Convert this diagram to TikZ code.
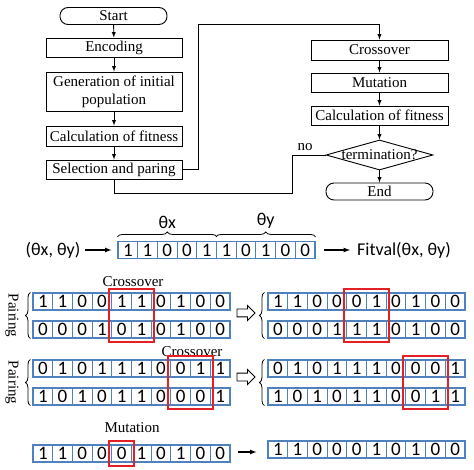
\documentclass[tikz,border=0pt]{standalone}
\usepackage{fontspec}
\setmainfont{Liberation Serif}
\newfontfamily\bitfont{Carlito}
\usetikzlibrary{shapes.geometric,shapes.arrows,decorations.pathreplacing,fit}
\definecolor{cellblue}{RGB}{79,129,189}
\definecolor{cutred}{RGB}{226,32,38}
\tikzstyle{flow}=[draw, line width=0.9pt, inner sep=0pt, font=\fontsize{15}{18}\selectfont, align=center]
\tikzstyle{proc}=[flow, minimum width=136pt, minimum height=19pt]
\tikzstyle{term}=[flow, rounded corners=8pt, minimum width=107pt, minimum height=17pt]
\tikzstyle{bit}=[draw=cellblue, line width=1.1pt, minimum width=19.7pt, minimum height=17pt, inner sep=0pt, font=\bitfont\fontsize{19}{19}\selectfont]
\tikzstyle{cut}=[draw=cutred, line width=2.2pt, inner xsep=2pt, inner ysep=3.5pt]
\tikzstyle{serif label}=[font=\fontsize{15}{18}\selectfont, inner sep=0pt]
\tikzstyle{sans label}=[font=\bitfont\fontsize{18}{18}\selectfont, inner sep=0pt]
\tikzstyle{brace}=[decorate, decoration={brace, amplitude=5pt}, line width=0.8pt]
\tikzstyle{hollow}=[single arrow, draw, line width=0.9pt, fill=white, minimum height=18pt, inner sep=3.5pt, single arrow head extend=3.5pt]
\tikzstyle{link}=[-latex, line width=0.9pt]
\tikzstyle{pass}=[-latex, line width=1.2pt]
\newcommand{\bitrow}[4]{% name, left x, centre y, bits
  \foreach \bv [count=\i] in {#4} {
    \draw (#2+\i*19.7-9.85,#3) node[bit] (#1-\i) {\bv};
  }}

\begin{document}
\begin{tikzpicture}[x=1pt,y=-1pt]
  \useasboundingbox (0,0) rectangle (474,470);

  %% Flow chart
  \draw (113.5,16) node[term] (start) {Start};
  \draw (114,47.5) node[proc] (enc) {Encoding};
  \draw (114,91.5) node[proc, minimum height=39pt] (gen) {Generation of initial\\population};
  \draw (114,136) node[proc, minimum height=20pt] (fit1) {Calculation of fitness};
  \draw (114,169.5) node[proc] (sel) {Selection and paring};

  \draw (379.5,50) node[proc, minimum width=137pt, minimum height=20pt] (cross) {Crossover};
  \draw (379.5,82.5) node[proc, minimum width=137pt] (mut) {Mutation};
  \draw (379.5,115.5) node[proc, minimum width=137pt] (fit2) {Calculation of fitness};
  \draw (379.5,155) node[flow, diamond, minimum width=107pt, minimum height=30pt] (check) {};
  \draw (check) node[serif label] (checktext) {termination?};
  \draw (379.5,191.5) node[term] (end) {End};

  \coordinate (loopup) at (198,24);
  \coordinate (loopback) at (292,193);

  \draw[link] (start) -- (enc);
  \draw[link] (enc) -- (gen);
  \draw[link] (gen) -- (fit1);
  \draw[link] (fit1) -- (sel);
  \draw[link] (sel.east) -| (loopup) -| (cross.north);
  \draw[link] (cross) -- (mut);
  \draw[link] (mut) -- (fit2);
  \draw[link] (fit2) -- (check);
  \draw[link] (check) -- (end);
  \draw[line width=0.9pt] (check.west) -| (loopback) -| (sel.south);
  \draw (305,147) node[serif label] (nolabel) {no};

  %% Encoding of the pair
  \draw (53,250) node[sans label] (theta) {(θx, θy)};
  \bitrow{code}{118}{250}{1,1,0,0,1,1,0,1,0,0}
  \draw (357,250) node[sans label, anchor=west] (fitval) {Fitval(θx, θy)};
  \draw[pass, shorten <=5pt, shorten >=6pt] (theta) -- (code-1);
  \draw[pass, shorten <=8pt, shorten >=7pt] (code-10) -- (fitval);
  \draw[brace] ([yshift=4pt]code-1.north west) -- ([yshift=4pt]code-5.north east) node[midway, above=8pt, sans label] (thetax) {θx};
  \draw[brace] ([yshift=4pt]code-6.north west) -- ([yshift=4pt]code-10.north east) node[midway, above=8pt, sans label] (thetay) {θy};

  %% First crossover
  \draw (133,282) node[serif label] (crosslabel1) {Crossover};
  \draw (12,315.5) node[serif label, rotate=-90] (pairlabel1) {Pairing};
  \bitrow{pa}{33}{301.5}{1,1,0,0,1,1,0,1,0,0}
  \bitrow{pb}{33}{329.5}{0,0,0,1,0,1,0,1,0,0}
  \bitrow{ca}{268}{301.5}{1,1,0,0,0,1,0,1,0,0}
  \bitrow{cb}{268}{329.5}{0,0,0,1,1,1,0,1,0,0}
  \node[cut, fit=(pa-5)(pb-6)] (cutp) {};
  \node[cut, fit=(ca-5)(cb-6)] (cutc) {};
  \draw[brace] ([xshift=-2pt]pb-1.south west) -- ([xshift=-2pt]pa-1.north west);
  \draw[brace] ([xshift=-3pt]cb-1.south west) -- ([xshift=-3pt]ca-1.north west);
  \draw (244,313) node[hollow] (swap1) {};

  %% Second crossover
  \draw (192,352) node[serif label] (crosslabel2) {Crossover};
  \draw (12,382.5) node[serif label, rotate=-90] (pairlabel2) {Pairing};
  \bitrow{pc}{33}{368.5}{0,1,0,1,1,1,0,0,1,1}
  \bitrow{pd}{33}{396.5}{1,0,1,0,1,1,0,0,0,1}
  \bitrow{cc}{268}{368.5}{0,1,0,1,1,1,0,0,0,1}
  \bitrow{cd}{268}{396.5}{1,0,1,0,1,1,0,0,1,1}
  \node[cut, fit=(pc-8)(pd-9)] (cutq) {};
  \node[cut, fit=(cc-8)(cd-9)] (cutd) {};
  \draw[brace] ([xshift=-2pt]pd-1.south west) -- ([xshift=-2pt]pc-1.north west);
  \draw[brace] ([xshift=-3pt]cd-1.south west) -- ([xshift=-3pt]cc-1.north west);
  \draw (244,377) node[hollow] (swap2) {};

  %% Mutation
  \draw (132,428) node[serif label] (mutlabel) {Mutation};
  \bitrow{mu}{33}{453.5}{1,1,0,0,0,1,0,1,0,0}
  \bitrow{mv}{268}{449.5}{1,1,0,0,0,1,0,1,0,0}
  \node[cut, fit=(mu-5)] (cutm) {};
  \draw[pass, shorten <=7pt, shorten >=11pt] ([yshift=1.5pt]mu-10.east) -- ([yshift=1.5pt]mu-10.east -| mv-1.west);
\end{tikzpicture}
\end{document}
